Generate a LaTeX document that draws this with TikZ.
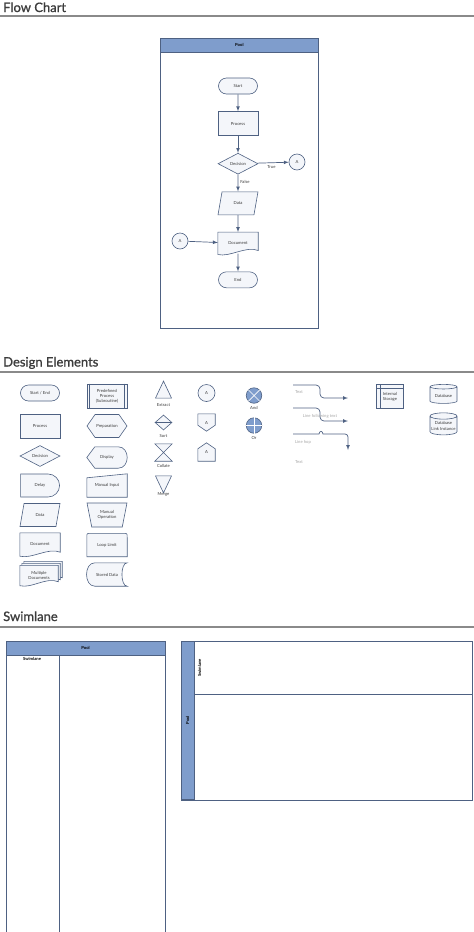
\documentclass[tikz,border=0pt]{standalone}
\usepackage{fontspec}
\setmainfont{Lato}
\newfontfamily\titlefont[FakeBold=1]{Lato}
\usetikzlibrary{arrows,shapes,positioning}
\definecolor{edgeblue}{HTML}{4E6182}
\definecolor{paleblue}{HTML}{F4F6FA}
\definecolor{poolblue}{HTML}{7F9DCC}
\definecolor{darktext}{HTML}{3C3C3C}
\definecolor{ruler}{HTML}{8A8A8A}
\pgfdeclarelayer{back}
\pgfsetlayers{back,main}
\newcommand{\tinyfont}{\fontsize{4.2}{5.2}\selectfont}
% document outline behind a node, shifted by #2,#3
\newcommand{\docoutline}[3]{%
  \draw[outline] ([xshift=#2,yshift=#3]#1.north west) -- ([xshift=#2,yshift=#3]#1.north east)
    -- ([xshift=#2,yshift={#3+4pt}]#1.south east) .. controls +(-12,-5) and +(12,3) ..
    ([xshift=#2,yshift=#3]#1.south west) -- cycle;}
\tikzset{
  elem/.style     = {draw=edgeblue, fill=paleblue, line width=0.6pt, font=\tinyfont,
                     text=darktext, inner sep=0.5pt, align=center},
  terminal/.style = {elem, rounded rectangle, minimum width=40pt, minimum height=16pt},
  process/.style  = {elem, rectangle, minimum width=40pt, minimum height=24pt},
  decision/.style = {elem, diamond, minimum width=40pt, minimum height=21pt, inner sep=0pt},
  data/.style     = {elem, trapezium, trapezium left angle=73, trapezium right angle=107,
                     trapezium stretches=true, minimum width=40pt, minimum height=23pt},
  conn/.style     = {elem, circle, minimum size=16pt, inner sep=0pt},
  bare/.style     = {font=\tinyfont, text=darktext, inner sep=0pt, align=center,
                     minimum width=40pt, minimum height=23pt},
  outline/.style  = {draw=edgeblue, fill=paleblue, line width=0.6pt},
  mark line/.style= {draw=edgeblue, line width=0.6pt},
  caption/.style  = {font=\tinyfont, text=darktext, inner sep=0pt},
  hint/.style     = {font=\tinyfont, text=gray!70, inner sep=0pt},
  title/.style    = {font=\titlefont\fontsize{13}{15}\selectfont, text=darktext, anchor=base west, inner sep=0pt},
  rule/.style     = {draw=ruler, line width=1.2pt},
  pool/.style     = {draw=edgeblue, line width=0.7pt, inner sep=0pt},
  head/.style     = {draw=edgeblue, fill=poolblue, line width=0.7pt, font=\tinyfont\bfseries,
                     text=black, inner sep=0pt},
  flow/.style     = {->, draw=edgeblue, line width=0.7pt},
}

\begin{document}
\begin{tikzpicture}[x=1pt, y=-1pt, >=latex, node distance=17pt]
\useasboundingbox (0,0) rectangle (474,932);

% section titles
\node[title] (t1) at (3,12) {Flow Chart};
\draw[rule] (0,16) -- (474,16);
\node[title] (t2) at (3,366.5) {Design Elements};
\draw[rule] (0,372) -- (474,372);
\node[title] (t3) at (3,621) {Swimlane};
\draw[rule] (0,627) -- (474,627);

% flow chart pool
\node[pool, minimum width=158pt, minimum height=290pt, anchor=north west] (fcpool) at (160,38) {};
\node[head, minimum width=158pt, minimum height=13.5pt, anchor=north west] (fchead) at (160,38) {Pool};

% flow chart
\node[terminal] (fstart) at (238,86) {Start};
\node[process, below=of fstart] (fproc) {Process};
\node[decision, below=of fproc] (fdec) {Decision};
\node[data, below=of fdec] (fdata) {Data};
\node[bare, minimum height=22pt, below=of fdata] (fdoc) {Document};
\node[terminal, below=of fdoc] (fend) {End};
\node[conn] (fa1) at (297,162) {A};
\node[conn] (fa2) at (180,241) {A};

\draw[flow] (fstart) -- (fproc);
\draw[flow] (fproc) -- (fdec);
\draw[flow] (fdec) -- node[caption, below=2pt, pos=0.45] {True} (fa1);
\draw[flow] (fdec) -- node[caption, right=2pt, pos=0.45] {False} (fdata);
\draw[flow] (fdata) -- (fdoc);
\draw[flow] (fa2) -- (fdoc);
\draw[flow] ([yshift=1pt]fdoc.south) -- (fend);

% design elements, first column
\node[terminal] (dse) at (40,393) {Start / End};
\node[process] (dpr) at (40,426) {Process};
\node[decision] (ddc) at (40,456) {Decision};
\node[elem, rounded rectangle, rounded rectangle west arc=none, minimum width=40pt,
      minimum height=23pt] (ddl) at (40,485.5) {Delay};
\node[data] (ddt) at (40,515) {Data};
\node[bare] (ddm) at (40,544.5) {Document};
\node[bare, minimum width=38pt, minimum height=20pt] (dmd) at (39,575.5) {Multiple\\Documents};

% second column
\node[process] (dpp) at (107,396) {Predefined\\Process\\(Subroutine)};
\node[elem, signal, signal to=west and east, signal pointer angle=110, minimum width=40pt,
      minimum height=23pt] (dpre) at (107,426) {Preparation};
\node[bare, minimum height=21pt] (ddp) at (107,457.5) {Display};
\node[bare] (dmi) at (107,485.5) {Manual Input};
\node[elem, trapezium, trapezium left angle=73, trapezium right angle=73, shape border rotate=180,
      trapezium stretches=true, minimum width=40pt, minimum height=24pt] (dmo) at (107,515) {Manual\\Operation};
\node[bare] (dll) at (107,545) {Loop Limit};
\node[bare] (dsd) at (107,574.5) {Stored Data};

% third column
\node[elem, isosceles triangle, shape border rotate=90, isosceles triangle stretches,
      minimum width=16pt, minimum height=17pt, inner sep=0pt] (dex) at (163.5,393) {};
\node[caption] (dexl) at (163.5,405) {Extract};
\node[elem, diamond, minimum width=17pt, minimum height=15pt, inner sep=0pt] (dso) at (163.5,422.5) {};
\node[caption] (dsol) at (163.5,436) {Sort};
\node[bare, minimum width=17pt, minimum height=17pt] (dcl) at (163.5,452.5) {};
\node[caption] (dcll) at (163.5,466) {Collate};
\node[elem, isosceles triangle, shape border rotate=270, isosceles triangle stretches,
      minimum width=16pt, minimum height=17pt, inner sep=0pt] (dme) at (163.5,481) {};
\node[caption] (dmel) at (163.5,494) {Merge};

% fourth column
\node[conn, minimum size=17pt] (dca) at (206.5,393) {A};
\node[bare, minimum width=17pt, minimum height=17pt] (dop) at (206.5,422.5) {A};
\node[bare, minimum width=17pt, minimum height=18pt] (dip) at (206.5,452) {A};

% fifth column
\node[elem, circle, fill=poolblue, minimum size=15.5pt, inner sep=0pt] (dand) at (254,395.5) {};
\node[caption] (dandl) at (254,407.5) {And};
\node[elem, circle, fill=poolblue, minimum size=15.5pt, inner sep=0pt] (dor) at (254,425.5) {};
\node[caption] (dorl) at (254,437.5) {Or};

% line samples
\coordinate (l1a) at (293,385);
\coordinate (l1b) at (348,398);
\coordinate (l2a) at (293,408);
\coordinate (l2b) at (348,421);
\coordinate (l3a) at (293,434);
\coordinate (l3b) at (348,450);
\draw[flow, rounded corners=4pt] (l1a) -- ++(27,0) |- (l1b);
\draw[flow, rounded corners=4pt] (l2a) -- ++(27,0) |- (l2b);
\draw[flow] (l3a) -- (319,434) .. controls (319.5,430.5) and (322.5,430.5) .. (323,434)
  [rounded corners=3pt] -- (348,434) -- (l3b);
\node[hint] (l1t) at (299,392.5) {Text};
\node[hint] (l2t) at (320,416) {Line following text};
\node[hint] (l3t) at (303,442) {Line hop};
\node[hint] (l4t) at (299,462) {Text};

% storage
\node[process, minimum width=27pt, minimum height=24pt] (dis) at (390,396.5) {Internal\\Storage};
\node[elem, cylinder, shape border rotate=90, aspect=0.25, minimum width=27pt,
      minimum height=19pt] (ddb) at (443.5,395.5) {Database};
\node[elem, cylinder, shape border rotate=90, aspect=0.25, minimum width=27pt,
      minimum height=22pt] (ddb2) at (443.5,426) {Database\\Link Instance};

% marks on top of shapes
\draw[mark line] ([xshift=3pt]dpp.north west) -- ([xshift=3pt]dpp.south west);
\draw[mark line] ([xshift=-3pt]dpp.north east) -- ([xshift=-3pt]dpp.south east);
\draw[mark line] ([yshift=-4pt]dis.north west) -- ([yshift=-4pt]dis.north east);
\draw[mark line] ([xshift=4pt]dis.north west) -- ([xshift=4pt]dis.south west);
\draw[mark line] (dso.west) -- (dso.east);
\draw[white, line width=0.7pt] (dand.north west) -- (dand.south east);
\draw[white, line width=0.7pt] (dand.north east) -- (dand.south west);
\draw[white, line width=0.7pt] (dor.north) -- (dor.south);
\draw[white, line width=0.7pt] (dor.west) -- (dor.east);

% outlines drawn behind their nodes
\begin{pgfonlayer}{back}
  \docoutline{fdoc}{0pt}{0pt}
  \docoutline{ddm}{0pt}{0pt}
  \docoutline{dmd}{4pt}{4pt}
  \docoutline{dmd}{2pt}{2pt}
  \docoutline{dmd}{0pt}{0pt}
  \draw[outline] (ddp.west) -- ([xshift=8pt]ddp.north west) -- ([xshift=-9pt]ddp.north east)
    .. controls ([xshift=3pt]ddp.north east) and ([xshift=3pt]ddp.south east) ..
    ([xshift=-9pt]ddp.south east) -- ([xshift=8pt]ddp.south west) -- cycle;
  \draw[outline] ([yshift=-4pt]dmi.north west) -- (dmi.north east) -- (dmi.south east)
    -- (dmi.south west) -- cycle;
  \draw[outline] (dll.south west) -- ([yshift=-4pt]dll.north west) .. controls (dll.north west) ..
    ([xshift=4pt]dll.north west) -- ([xshift=-4pt]dll.north east) .. controls (dll.north east) ..
    ([yshift=-4pt]dll.north east) -- (dll.south east) -- cycle;
  \draw[outline] ([xshift=8pt]dsd.north west) -- (dsd.north east)
    .. controls ([xshift=-7pt]dsd.north east) and ([xshift=-7pt]dsd.south east) .. (dsd.south east)
    -- ([xshift=8pt]dsd.south west)
    .. controls ([xshift=-3pt]dsd.south west) and ([xshift=-3pt]dsd.north west) ..
    ([xshift=8pt]dsd.north west) -- cycle;
  \draw[outline] (dcl.north west) -- (dcl.north east) -- (dcl.south west) -- (dcl.south east) -- cycle;
  \draw[outline] (dop.north west) -- (dop.north east) -- ([yshift=6pt]dop.south east) -- (dop.south)
    -- ([yshift=6pt]dop.south west) -- cycle;
  \draw[outline] (dip.north) -- ([yshift=-6pt]dip.north east) -- (dip.south east) -- (dip.south west)
    -- ([yshift=-6pt]dip.north west) -- cycle;
\end{pgfonlayer}

% swimlanes, horizontal pool
\node[pool, minimum width=158.5pt, minimum height=300pt, anchor=north west] (hpool) at (6,641) {};
\node[head, minimum width=158.5pt, minimum height=13.5pt, anchor=north west] (hhead) at (6,641) {Pool};
\draw[pool] (hhead.south west -| 59,0) -- (hpool.south west -| 59,0);
\node[caption, font=\tinyfont\bfseries, text=black] (hlane) at (32,659) {Swimlane};

% swimlanes, vertical pool
\node[pool, minimum width=290.5pt, minimum height=158.5pt, anchor=north west] (vpool) at (181,641) {};
\node[head, rotate=90, minimum width=158.5pt, minimum height=13pt] (vhead) at (187.5,720.25) {Pool};
\draw[pool] (194,694) -- (vpool.east |- 0,694);
\node[caption, rotate=90, font=\tinyfont\bfseries, text=black] (vlane) at (199.5,668) {Swimlane};

\end{tikzpicture}
\end{document}
